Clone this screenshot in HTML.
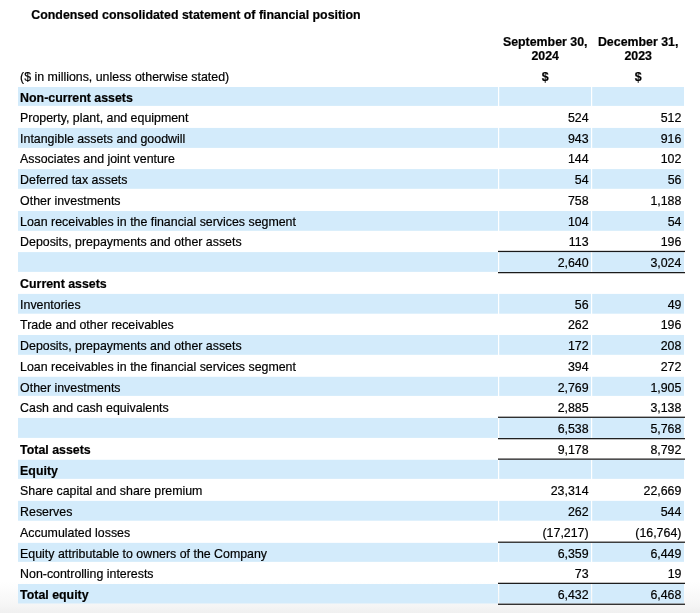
<!DOCTYPE html>
<html><head><meta charset="utf-8"><title>Statement</title>
<style>
html,body{margin:0;padding:0;background:#fff;}
body{width:700px;height:613px;position:relative;overflow:hidden;font-family:"Liberation Sans",sans-serif;color:#000;font-size:12.38px;}
.a{position:absolute;white-space:nowrap;line-height:15px;}
svg{position:absolute;left:0;top:0;}
svg rect{fill:#d3ebfb;}
svg rect.k{fill:#1a1a1a;}
#tx{position:absolute;left:0;top:0;width:700px;height:613px;will-change:transform;-webkit-text-stroke:0.2px #000;}
.t{left:31.3px;top:8px;font-weight:bold;}
.h{font-weight:bold;text-align:center;width:92px;}
.c1{left:499.2px;}
.c2{left:592.2px;}
.l{left:20.1px;}
.b{font-weight:bold;}
.n{text-align:right;}
</style></head><body>
<svg width="700" height="613" viewBox="0 0 700 613">
<defs><linearGradient id="g" x1="0" y1="0" x2="0" y2="1"><stop offset="0" stop-color="#fff"/><stop offset="0.7" stop-color="#f6f6f6"/><stop offset="1" stop-color="#f0f0f0"/></linearGradient></defs>
<rect x="0" y="582" width="700" height="31" style="fill:url(#g)"/>
<rect x="18" y="87.00" width="480" height="18.9"/>
<rect x="499.2" y="87.00" width="91.8" height="18.9"/>
<rect x="592.2" y="87.00" width="91.8" height="18.9"/>
<rect x="18" y="127.93" width="480" height="19.97"/>
<rect x="499.2" y="127.93" width="91.8" height="19.97"/>
<rect x="592.2" y="127.93" width="91.8" height="19.97"/>
<rect x="18" y="169.10" width="480" height="19.7"/>
<rect x="499.2" y="169.10" width="91.8" height="19.7"/>
<rect x="592.2" y="169.10" width="91.8" height="19.7"/>
<rect x="18" y="210.96" width="480" height="19.84"/>
<rect x="499.2" y="210.96" width="91.8" height="19.84"/>
<rect x="592.2" y="210.96" width="91.8" height="19.84"/>
<rect x="18" y="252.10" width="480" height="19.77"/>
<rect x="499.2" y="252.10" width="91.8" height="19.77"/>
<rect x="592.2" y="252.10" width="91.8" height="19.77"/>
<rect x="18" y="293.90" width="480" height="19.8"/>
<rect x="499.2" y="293.90" width="91.8" height="19.8"/>
<rect x="592.2" y="293.90" width="91.8" height="19.8"/>
<rect x="18" y="334.98" width="480" height="19.82"/>
<rect x="499.2" y="334.98" width="91.8" height="19.82"/>
<rect x="592.2" y="334.98" width="91.8" height="19.82"/>
<rect x="18" y="376.80" width="480" height="19.1"/>
<rect x="499.2" y="376.80" width="91.8" height="19.1"/>
<rect x="592.2" y="376.80" width="91.8" height="19.1"/>
<rect x="18" y="417.92" width="480" height="19.98"/>
<rect x="499.2" y="417.92" width="91.8" height="19.98"/>
<rect x="592.2" y="417.92" width="91.8" height="19.98"/>
<rect x="18" y="459.77" width="480" height="19.09"/>
<rect x="499.2" y="459.77" width="91.8" height="19.09"/>
<rect x="592.2" y="459.77" width="91.8" height="19.09"/>
<rect x="18" y="500.86" width="480" height="19.84"/>
<rect x="499.2" y="500.86" width="91.8" height="19.84"/>
<rect x="592.2" y="500.86" width="91.8" height="19.84"/>
<rect x="18" y="542.86" width="480" height="18.99"/>
<rect x="499.2" y="542.86" width="91.8" height="18.99"/>
<rect x="592.2" y="542.86" width="91.8" height="18.99"/>
<rect x="18" y="584.00" width="480" height="19.5"/>
<rect x="499.2" y="584.00" width="91.8" height="19.5"/>
<rect x="592.2" y="584.00" width="91.8" height="19.5"/>
<rect class="k" x="498" y="250.83" width="187" height="1.25"/>
<rect class="k" x="498" y="272.00" width="187" height="1.25"/>
<rect class="k" x="498" y="416.65" width="187" height="1.25"/>
<rect class="k" x="498" y="438.03" width="187" height="1.25"/>
<rect class="k" x="498" y="458.51" width="187" height="1.25"/>
<rect class="k" x="498" y="541.59" width="187" height="1.25"/>
<rect class="k" x="498" y="582.73" width="187" height="1.25"/>
<rect class="k" x="498" y="603.63" width="187" height="1.25"/>
</svg>
<div id="tx"><div class="a t">Condensed consolidated statement of financial position</div>
<div class="a h c1" style="top:35px;">September 30,</div>
<div class="a h c1" style="top:49px;">2024</div>
<div class="a h c2" style="top:35px;">December 31,</div>
<div class="a h c2" style="top:49px;">2023</div>
<div class="a h c1" style="top:70px;">$</div>
<div class="a h c2" style="top:70px;">$</div>
<div class="a l" style="top:70px;">($ in millions, unless otherwise stated)</div>
<div class="a l b" style="top:91px;">Non-current assets</div>
<div class="a l" style="top:111px;">Property, plant, and equipment</div>
<div class="a n" style="left:498px;width:90.6px;top:111px;">524</div>
<div class="a n" style="left:591px;width:90.4px;top:111px;">512</div>
<div class="a l" style="top:132px;">Intangible assets and goodwill</div>
<div class="a n" style="left:498px;width:90.6px;top:132px;">943</div>
<div class="a n" style="left:591px;width:90.4px;top:132px;">916</div>
<div class="a l" style="top:152px;">Associates and joint venture</div>
<div class="a n" style="left:498px;width:90.6px;top:152px;">144</div>
<div class="a n" style="left:591px;width:90.4px;top:152px;">102</div>
<div class="a l" style="top:173px;">Deferred tax assets</div>
<div class="a n" style="left:498px;width:90.6px;top:173px;">54</div>
<div class="a n" style="left:591px;width:90.4px;top:173px;">56</div>
<div class="a l" style="top:194px;">Other investments</div>
<div class="a n" style="left:498px;width:90.6px;top:194px;">758</div>
<div class="a n" style="left:591px;width:90.4px;top:194px;">1,188</div>
<div class="a l" style="top:215px;">Loan receivables in the financial services segment</div>
<div class="a n" style="left:498px;width:90.6px;top:215px;">104</div>
<div class="a n" style="left:591px;width:90.4px;top:215px;">54</div>
<div class="a l" style="top:235px;">Deposits, prepayments and other assets</div>
<div class="a n" style="left:498px;width:90.6px;top:235px;">113</div>
<div class="a n" style="left:591px;width:90.4px;top:235px;">196</div>
<div class="a n" style="left:498px;width:90.6px;top:256px;">2,640</div>
<div class="a n" style="left:591px;width:90.4px;top:256px;">3,024</div>
<div class="a l b" style="top:277px;">Current assets</div>
<div class="a l" style="top:298px;">Inventories</div>
<div class="a n" style="left:498px;width:90.6px;top:298px;">56</div>
<div class="a n" style="left:591px;width:90.4px;top:298px;">49</div>
<div class="a l" style="top:318px;">Trade and other receivables</div>
<div class="a n" style="left:498px;width:90.6px;top:318px;">262</div>
<div class="a n" style="left:591px;width:90.4px;top:318px;">196</div>
<div class="a l" style="top:339px;">Deposits, prepayments and other assets</div>
<div class="a n" style="left:498px;width:90.6px;top:339px;">172</div>
<div class="a n" style="left:591px;width:90.4px;top:339px;">208</div>
<div class="a l" style="top:360px;">Loan receivables in the financial services segment</div>
<div class="a n" style="left:498px;width:90.6px;top:360px;">394</div>
<div class="a n" style="left:591px;width:90.4px;top:360px;">272</div>
<div class="a l" style="top:381px;">Other investments</div>
<div class="a n" style="left:498px;width:90.6px;top:381px;">2,769</div>
<div class="a n" style="left:591px;width:90.4px;top:381px;">1,905</div>
<div class="a l" style="top:401px;">Cash and cash equivalents</div>
<div class="a n" style="left:498px;width:90.6px;top:401px;">2,885</div>
<div class="a n" style="left:591px;width:90.4px;top:401px;">3,138</div>
<div class="a n" style="left:498px;width:90.6px;top:422px;">6,538</div>
<div class="a n" style="left:591px;width:90.4px;top:422px;">5,768</div>
<div class="a l b" style="top:443px;">Total assets</div>
<div class="a n" style="left:498px;width:90.6px;top:443px;">9,178</div>
<div class="a n" style="left:591px;width:90.4px;top:443px;">8,792</div>
<div class="a l b" style="top:464px;">Equity</div>
<div class="a l" style="top:484px;">Share capital and share premium</div>
<div class="a n" style="left:498px;width:90.6px;top:484px;">23,314</div>
<div class="a n" style="left:591px;width:90.4px;top:484px;">22,669</div>
<div class="a l" style="top:505px;">Reserves</div>
<div class="a n" style="left:498px;width:90.6px;top:505px;">262</div>
<div class="a n" style="left:591px;width:90.4px;top:505px;">544</div>
<div class="a l" style="top:526px;">Accumulated losses</div>
<div class="a n" style="left:498px;width:90.6px;top:526px;">(17,217)</div>
<div class="a n" style="left:591px;width:90.4px;top:526px;">(16,764)</div>
<div class="a l" style="top:547px;">Equity attributable to owners of the Company</div>
<div class="a n" style="left:498px;width:90.6px;top:547px;">6,359</div>
<div class="a n" style="left:591px;width:90.4px;top:547px;">6,449</div>
<div class="a l" style="top:567px;">Non-controlling interests</div>
<div class="a n" style="left:498px;width:90.6px;top:567px;">73</div>
<div class="a n" style="left:591px;width:90.4px;top:567px;">19</div>
<div class="a l b" style="top:588px;">Total equity</div>
<div class="a n" style="left:498px;width:90.6px;top:588px;">6,432</div>
<div class="a n" style="left:591px;width:90.4px;top:588px;">6,468</div>
</div></body></html>
